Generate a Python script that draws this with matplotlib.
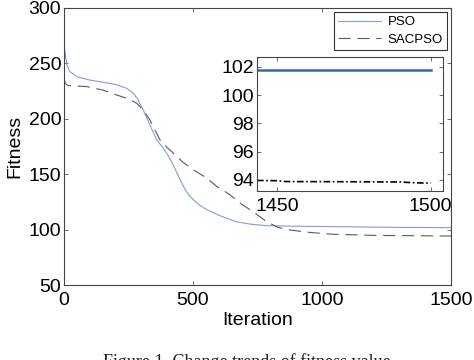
import numpy as np
from matplotlib import pyplot as plt

plt.rcParams['font.family'] = ['Liberation Sans', 'DejaVu Sans']

# main curves
pso_x = [0, 5, 12, 23, 50, 100, 150, 200, 243, 265, 285, 307, 330, 359, 380, 398,
         420, 450, 470, 488, 520, 553, 600, 669, 720, 785, 900, 1082, 1300, 1500]
pso_y = [268, 258, 248, 242.5, 238, 235, 233, 231, 227.5, 224, 218, 208, 196, 181, 175, 169,
         160, 145, 136, 130, 123, 118, 113, 107, 105, 103.5, 103, 102.6, 102, 101.8]

sac_x = [0, 5, 15, 49, 89, 150, 204, 250, 282, 310, 333, 350, 372, 400, 424, 460,
         501, 550, 592, 640, 682, 740, 786, 830, 876, 950, 1044, 1200, 1500]
sac_y = [237, 232, 230, 229.6, 229, 226, 221.5, 218, 214, 207, 199, 191, 181, 174, 169, 161,
         154, 147, 139, 132, 124, 115, 107, 102, 99.6, 97.5, 95.8, 94.8, 94.2]

# zoomed view
ins_pso_x = [1443.5, 1470, 1500]
ins_pso_y = [101.8, 101.8, 101.8]
ins_sac_x = [1443.5, 1450, 1453, 1470, 1490, 1495, 1500]
ins_sac_y = [93.95, 93.93, 93.87, 93.86, 93.84, 93.78, 93.76]

fig = plt.figure(figsize=(4.74, 3.6), dpi=100)
ax = fig.add_axes([0.135, 0.2083, 0.8165, 0.7695])
ax.plot(pso_x, pso_y, color='#7f9fd0', lw=0.8, label='PSO')
ax.plot(sac_x, sac_y, color='#5a5a5a', lw=0.8, dashes=(11, 6), label='SACPSO')
ax.set_xlim(0, 1500)
ax.set_ylim(50, 300)
ax.set_xticks([0, 500, 1000, 1500])
ax.set_yticks([50, 100, 150, 200, 250, 300])
ax.tick_params(direction='in', top=True, right=True, labelsize=14, length=3,
               color='#555555', width=0.6)
ax.tick_params(axis='x', pad=5)
ax.tick_params(axis='y', pad=2)
for s in ax.spines.values():
    s.set_color('#444444')
    s.set_linewidth(0.8)
ax.set_xlabel('Iteration', fontsize=14, labelpad=2)
ax.set_ylabel('Fitness', fontsize=14, labelpad=4)
leg = ax.legend(loc='upper right', fontsize=9.5, fancybox=False, framealpha=1,
                borderaxespad=0.3, handlelength=3.3, borderpad=0.3, labelspacing=0.4,
                handletextpad=0.5)
leg.get_frame().set_edgecolor('#333333')
leg.get_frame().set_linewidth(0.8)

ins = fig.add_axes([0.5422, 0.4694, 0.3924, 0.3723])
ins.plot(ins_pso_x, ins_pso_y, color='#3a66ad', lw=1.8)
ins.plot(ins_sac_x, ins_sac_y, color='black', lw=1.2, dashes=(4, 1.5, 1, 1.5))
ins.set_xlim(1443.5, 1504)
ins.set_ylim(93.2, 102.7)
ins.set_xticks([1450, 1500])
ins.set_yticks([94, 96, 98, 100, 102])
ins.tick_params(direction='in', top=True, right=True, labelsize=14, length=3,
                color='#555555', width=0.6)
ins.tick_params(axis='x', pad=5)
ins.tick_params(axis='y', pad=2)
for s in ins.spines.values():
    s.set_color('#444444')
    s.set_linewidth(0.8)

fig.text(0.52, -0.005, 'Figure 1. Change trends of fitness value', ha='center', va='center',
         fontsize=13, family=['Liberation Serif', 'DejaVu Serif'], color='#222222')

fig.savefig('out.png', dpi=100)
